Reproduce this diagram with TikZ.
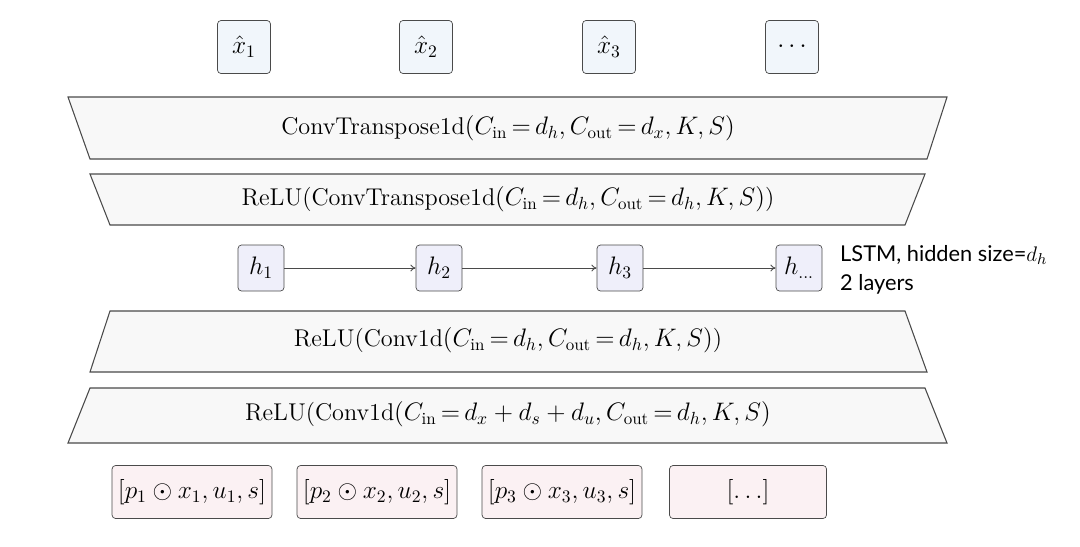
\documentclass[tikz,border=0pt]{standalone}
\usepackage{fontspec}
\newfontfamily\labelfont{Lato}
\usetikzlibrary{arrows.meta}
\definecolor{outfill}{HTML}{F1F6FB}
\definecolor{hidfill}{HTML}{EFEFFA}
\definecolor{infill}{HTML}{FBF1F3}
\definecolor{layfill}{HTML}{F8F8F8}
\definecolor{edge}{HTML}{4A4A4A}
\thickmuskip=3mu plus 2mu
\begin{document}
\begin{tikzpicture}[x=0.2mm,y=-0.2mm,
  every node/.style={font=\fontsize{13.8}{16}\selectfont},
  outbox/.style={draw=edge,fill=outfill,rounded corners=2pt,minimum width=10.6mm,minimum height=10.6mm},
  hidbox/.style={draw=edge,fill=hidfill,rounded corners=2pt,minimum width=9.2mm,minimum height=9.2mm},
  inbox/.style={draw=edge,fill=infill,rounded corners=2pt,minimum width=31.4mm,minimum height=10.6mm},
  layer/.style={draw=edge,fill=layfill,line width=0.6pt},
  rnn/.style={-{To[length=3pt,width=4pt]},edge,line width=0.5pt}]
\useasboundingbox (0,0) rectangle (1080,546);
% decoder outputs
\node[outbox] (xh1) at (244,47) {$\hat{x}_1$};
\node[outbox] (xh2) at (426,47) {$\hat{x}_2$};
\node[outbox] (xh3) at (609,47) {$\hat{x}_3$};
\node[outbox] (xhd) at (792,47) {$\cdots$};
% decoder layers
\draw[layer] (68,97)--(947,97)--(927,159)--(90,159)--cycle;
\node (dec2) at (508,128) {ConvTranspose1d$(C_{\mathrm{in}}=d_h,C_{\mathrm{out}}=d_x,K,S)$};
\draw[layer] (90,174)--(925,174)--(905,225)--(110,225)--cycle;
\node (dec1) at (508,199) {ReLU(ConvTranspose1d$(C_{\mathrm{in}}=d_h,C_{\mathrm{out}}=d_h,K,S)$)};
% LSTM
\node[hidbox] (h1) at (261,268) {$h_1$};
\node[hidbox] (h2) at (439,268) {$h_2$};
\node[hidbox] (h3) at (620,268) {$h_3$};
\node[hidbox] (hd) at (799,268) {$h_{\ldots}$};
\draw[rnn] (h1)--(h2); \draw[rnn] (h2)--(h3); \draw[rnn] (h3)--(hd);
\node[anchor=west,font=\labelfont\fontsize{12.4}{14}\selectfont] (lstm) at (834,255) {LSTM, hidden size=$d_h$};
\node[anchor=west,font=\labelfont\fontsize{12.4}{14}\selectfont] (nlay) at (834,284) {2 layers};
% encoder layers
\draw[layer] (110,311)--(905,311)--(927,372)--(90,372)--cycle;
\node (enc2) at (508,340) {ReLU(Conv1d$(C_{\mathrm{in}}=d_h,C_{\mathrm{out}}=d_h,K,S)$)};
\draw[layer] (90,388)--(925,388)--(947,443)--(68,443)--cycle;
\node (enc1) at (508,414) {ReLU(Conv1d$(C_{\mathrm{in}}=d_x+d_s+d_u,C_{\mathrm{out}}=d_h,K,S)$};
% encoder inputs
\node[inbox] (in1) at (192,492) {$[p_1\odot x_1,u_1,s]$};
\node[inbox] (in2) at (377,492) {$[p_2\odot x_2,u_2,s]$};
\node[inbox] (in3) at (562,492) {$[p_3\odot x_3,u_3,s]$};
\node[inbox] (ind) at (748,492) {$[\ldots]$};
\end{tikzpicture}
\end{document}
